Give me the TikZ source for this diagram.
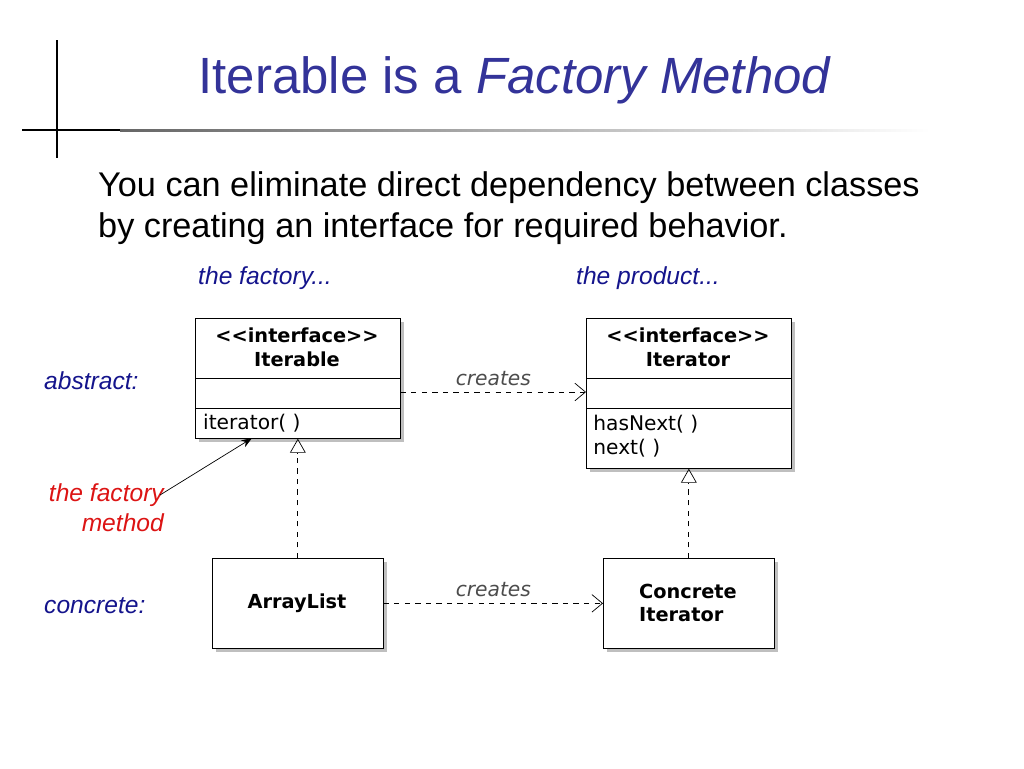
\documentclass[tikz,border=0pt]{standalone}
\usepackage{fontspec}
\setmainfont{Liberation Sans}
\newfontfamily\umlfont{DejaVu Sans}
\usetikzlibrary{positioning,arrows.meta}
\definecolor{titleblue}{RGB}{51,51,153}
\definecolor{labelblue}{RGB}{20,20,140}
\definecolor{labelred}{RGB}{220,20,20}
\tikzset{
  umlbox/.style={draw,fill=white,anchor=north west,inner sep=0pt},
  umlname/.style={font=\umlfont\bfseries\fontsize{11}{13.5}\selectfont,align=center},
  umlop/.style={font=\umlfont\fontsize{11.5}{13.5}\selectfont,align=left},
  shadowbox/.style={fill=black!25},
  creates/.style={dashed,-{Straight Barb[length=6pt,width=10pt]}},
  realizes/.style={dashed,-{Triangle[open,length=8pt,width=9pt]}},
  createslabel/.style={above,font=\umlfont\itshape\fontsize{11.5}{13}\selectfont,text=black!70},
  caption/.style={text=labelblue,font=\fontsize{14}{17}\selectfont\itshape}
}
\begin{document}
\begin{tikzpicture}[x=0.02cm,y=-0.02cm]
  \useasboundingbox (0,0) rectangle (1024,768);
  % corner lines
  \draw[line width=1.5pt] (57,40) -- (57,158);
  \draw[line width=1.5pt] (22,130) -- (120,130);
  \shade[left color=black!60,right color=white] (120,129) rectangle (930,131);
  % title and text
  \node[text=titleblue,font=\fontsize{29}{34}\selectfont] (title) at (515,80) {Iterable is a \textit{Factory Method}};
  \node[anchor=west,align=left,font=\fontsize{19.5}{23.5}\selectfont] (intro) at (92,208)
    {You can eliminate direct dependency between classes\\by creating an interface for required behavior.};
  \node[caption] (factory) at (265,278) {the factory...};
  \node[caption] (product) at (648,278) {the product...};
  \node[caption,anchor=west] (abstract) at (38,381) {abstract:};
  \node[caption,anchor=west] (concrete) at (38,606) {concrete:};
  \node[caption,text=labelred,align=right,anchor=east,font=\fontsize{14}{17}\selectfont\itshape] (fmethod) at (170,508) {the factory\\method};
  % shadows
  \fill[shadowbox] (199,322) rectangle (404,442);
  \fill[shadowbox] (590,322) rectangle (795,472);
  \fill[shadowbox] (216,562) rectangle (387,652);
  \fill[shadowbox] (607,562) rectangle (778,652);
  % Iterable
  \node[umlbox,minimum width=4.1cm,minimum height=2.4cm] (iterable) at (195,318) {};
  \draw (195,378) -- (400,378) (195,408) -- (400,408);
  \node[umlname] (iterablename) at (297,347) {<{}<interface>{}>\\Iterable};
  \node[umlop,anchor=west] (iteratorop) at (197,423) {iterator( )};
  % Iterator
  \node[umlbox,minimum width=4.1cm,minimum height=3cm] (iterator) at (586,318) {};
  \draw (586,378) -- (791,378) (586,408) -- (791,408);
  \node[umlname] (iteratorname) at (688,347) {<{}<interface>{}>\\Iterator};
  \node[umlop,anchor=north west,inner sep=0pt] (ops) at (593,415) {hasNext( )\\next( )};
  % concrete classes
  \node[umlbox,minimum width=3.42cm,minimum height=1.8cm] (arraylist) at (212,558) {};
  \node[umlname] (alname) at (297,603) {ArrayList};
  \node[umlbox,minimum width=3.42cm,minimum height=1.8cm] (concreteit) at (603,558) {};
  \node[umlname,align=left] (ciname) at (688,603) {Concrete\\Iterator};
  % connectors
  \draw[creates] (iterable.east |- 0,392) -- node[createslabel] {creates} (iterator.west |- 0,392);
  \draw[creates] (arraylist.east) -- node[createslabel] {creates} (concreteit.west);
  \draw[realizes] (arraylist.north) -- (arraylist.north |- iterable.south);
  \draw[realizes] (concreteit.north) -- (concreteit.north |- iterator.south);
  \draw[-{Stealth[length=6pt]}] (160,495) -- (iteratorop.south);
\end{tikzpicture}
\end{document}
